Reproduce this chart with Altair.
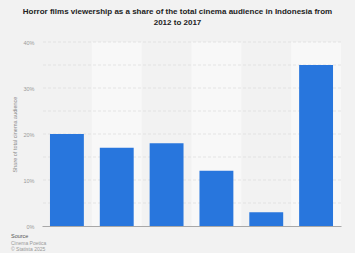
import altair as alt
import pandas as pd

years = ["2012", "2013", "2014", "2015", "2016", "2017"]
shares = [20, 17, 18, 12, 3, 35]
shaded = ["2013", "2015", "2017"]
tick_values = [0, 5, 10, 15, 20, 25, 30, 35, 40]
title_lines = ["Horror films viewership as a share of the total cinema audience in Indonesia from", "2012 to 2017"]
source_lines = ["Source", "Cinema Poetica", "© Statista 2025"]

df = pd.DataFrame({"year": years, "share": shares})
bands = pd.DataFrame({"year": shaded, "lo": [0] * len(shaded), "hi": [40] * len(shaded)})
grid = pd.DataFrame({"v": tick_values[1:]})

FONT = "Liberation Sans"
xscale = alt.Scale(domain=years, paddingInner=0, paddingOuter=0)
yscale = alt.Scale(domain=[0, 40], nice=False)

band_layer = alt.Chart(bands).mark_bar(color="#f8f8f8", width=alt.RelativeBandSize(1.0)).encode(
    x=alt.X("year:N", scale=xscale, axis=alt.Axis(labels=False, ticks=False, domain=True, domainColor="#a8a8a8", domainWidth=1, title=None, grid=False)),
    y=alt.Y("lo:Q", scale=yscale, axis=alt.Axis(
        values=tick_values,
        labelExpr="datum.value + '%'",
        title="Share of total cinema audience",
        titleFontSize=5.5, titleFont=FONT, titleColor="#8a8a8a", titleFontWeight="normal",
        titlePadding=5,
        labelFontSize=5.5, labelFont=FONT, labelColor="#9a9a9a", labelPadding=8,
        ticks=False, domain=False, grid=False,
    )),
    y2="hi:Q",
)

grid_layer = alt.Chart(grid).mark_rule(color="#dedede", strokeDash=[3, 2], strokeWidth=0.8).encode(
    y=alt.Y("v:Q", scale=yscale),
)

bars = alt.Chart(df).mark_bar(color="#2876dd", width=alt.RelativeBandSize(0.68)).encode(
    x=alt.X("year:N", scale=xscale),
    y=alt.Y("share:Q", scale=yscale),
)

src_head = alt.Chart(pd.DataFrame({"t": source_lines[:1]})).mark_text(
    align="left", baseline="middle", font=FONT, fontSize=5.5, color="#555555"
).encode(x=alt.value(-31), y=alt.value(194), text="t:N")

src_rest = alt.Chart(pd.DataFrame({"t": ["\n".join(source_lines[1:])]})).mark_text(
    align="left", baseline="middle", font=FONT, fontSize=5, color="#9a9a9a", lineBreak="\n", lineHeight=6.5
).encode(x=alt.value(-31), y=alt.value(200.5), text="t:N")

chart = alt.layer(band_layer, grid_layer, bars, src_head, src_rest).properties(
    width=299,
    height=184,
    autosize=alt.AutoSizeParams(type="none"),
    padding={"left": 42, "top": 42, "right": 14, "bottom": 27},
    background="#f2f2f2",
    title=alt.Title(
        text=title_lines,
        font=FONT, fontSize=8, fontWeight="bold", color="#222222",
        anchor="middle", dx=-14, offset=13, lineHeight=11,
    ),
).configure_view(stroke=None)

chart.save("out.html", embed_options={"renderer": "svg", "actions": False})
